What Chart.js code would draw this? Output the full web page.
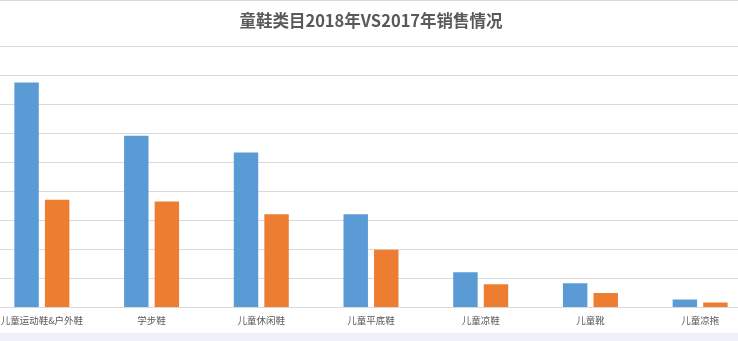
<!DOCTYPE html>
<html lang="zh">
<head>
    <meta charset="UTF-8">
    <title>童鞋类目销售情况</title>
    <style>
        html, body { margin: 0; padding: 0; overflow: hidden; width: 738px; height: 341px; background: #eef2f8; }
        #box { position: absolute; left: 0; top: 0; width: 738px; height: 333px; background: #fff; border-top: 1px solid #d9d9d9; box-sizing: border-box; overflow: hidden; }
        #wrap { position: absolute; left: -13px; top: -1px; width: 768px; height: 333px; }
    </style>
</head>
<body>
    <div id="box">
        <div id="wrap"><canvas id="salesChart"></canvas></div>
    </div>

    <script src="https://cdn.jsdelivr.net/npm/chart.js"></script>
    <script>
        // 数据（纵轴刻度在原图中被裁掉，按网格单位估读）
        const categories = ['儿童运动鞋&户外鞋', '学步鞋', '儿童休闲鞋', '儿童平底鞋', '儿童凉鞋', '儿童靴', '儿童凉拖'];
        const sales2018 = [7.77, 5.93, 5.35, 3.22, 1.22, 0.84, 0.28];
        const sales2017 = [3.72, 3.66, 3.22, 2.0, 0.81, 0.5, 0.18];

        const ctx = document.getElementById('salesChart').getContext('2d');
        new Chart(ctx, {
            type: 'bar',
            data: {
                labels: categories,
                datasets: [{
                    label: '2018年',
                    data: sales2018,
                    backgroundColor: '#5b9bd5',
                    categoryPercentage: 0.557,
                    barPercentage: 0.8
                }, {
                    label: '2017年',
                    data: sales2017,
                    backgroundColor: '#ed7d31',
                    categoryPercentage: 0.557,
                    barPercentage: 0.8
                }]
            },
            options: {
                responsive: true,
                maintainAspectRatio: false,
                animation: false,
                layout: { padding: { left: 0, right: 0, top: 0, bottom: 0 } },
                scales: {
                    x: {
                        grid: { display: false, drawTicks: false },
                        border: { display: false },
                        ticks: {
                            color: '#595959',
                            padding: 7,
                            maxRotation: 0,
                            font: { family: '"Noto Sans CJK SC", sans-serif', size: 9.5 }
                        }
                    },
                    y: {
                        min: 0,
                        max: 9,
                        ticks: { display: false, stepSize: 1 },
                        grid: { color: '#d9d9d9', drawTicks: false },
                        border: { display: false }
                    }
                },
                plugins: {
                    legend: { display: false },
                    tooltip: { enabled: false },
                    title: {
                        display: true,
                        text: '童鞋类目2018年VS2017年销售情况',
                        color: '#595959',
                        font: { family: '"Noto Sans CJK SC", sans-serif', size: 16.5, weight: 'bold', lineHeight: 1.2 },
                        padding: { top: 11, bottom: 16 }
                    }
                }
            }
        });
    </script>
</body>
</html>
